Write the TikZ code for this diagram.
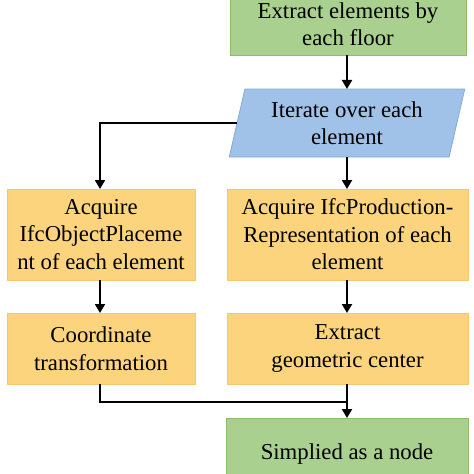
\documentclass[tikz,border=0pt]{standalone}
\usepackage{fontspec}
\newfontfamily\tnr{LiberationSerif}[Extension=.ttf, UprightFont=*-Regular, BoldFont=*-Bold]
\usetikzlibrary{shapes.geometric,arrows.meta}
\definecolor{gfill}{RGB}{169,208,142}
\definecolor{gline}{RGB}{140,188,112}
\definecolor{ofill}{RGB}{252,212,125}
\definecolor{oline}{RGB}{246,200,110}
\definecolor{bfill}{RGB}{160,194,232}
\definecolor{bline}{RGB}{130,170,215}
\tikzset{
  x=1pt, y=-1pt,
  txt/.style={font=\tnr\fontsize{22.75pt}{27.5pt}\selectfont, align=center, text=black, inner sep=0pt, outer sep=0pt},
  gbox/.style={txt, rectangle, fill=gfill, draw=gline, line width=0.8pt},
  obox/.style={txt, rectangle, fill=ofill, draw=oline, line width=0.8pt},
  pbox/.style={txt, trapezium, trapezium left angle=75, trapezium right angle=105, trapezium stretches=true, fill=bfill, draw=bline, line width=0.8pt},
  conn/.style={line width=2pt, black},
  arr/.style={conn, -{Triangle[length=9pt,width=10pt]}}
}
\begin{document}
\begin{tikzpicture}
\useasboundingbox (0,0) rectangle (474,474);
\clip (0,0) rectangle (474,474);
\node[gbox, minimum width=236pt, minimum height=62pt] (top) at (348,24) {Extract elements by\\each floor};
\node[pbox, minimum width=236pt, minimum height=68pt] (para) at (347,123) {Iterate over each\\element};
\node[obox, minimum width=188pt, minimum height=91pt] (L1) at (101,234.5) {Acquire\\IfcObjectPlaceme\\nt of each element};
\node[obox, minimum width=241pt, minimum height=91pt] (R1) at (347.5,234.5) {Acquire IfcProduction-\\Representation of each\\element};
\node[obox, minimum width=188pt, minimum height=71pt] (L2) at (101,348.5) {Coordinate\\transformation};
\node[obox, minimum width=241pt, minimum height=71pt] (R2) at (347.5,348.5) {Extract\\geometric center};
\node[gbox, minimum width=242pt, minimum height=72pt] (bot) at (347,454) {Simplied as a node};
\coordinate (m) at (347,402);
\draw[arr] (top.south -| 347,0) -- (para.north -| 347,0);
\draw[arr] (para.west) -| (100,189);
\draw[arr] (para.south -| 347,0) -- (R1.north -| 347,0);
\draw[arr] (L1.south -| 100,0) -- (L2.north -| 100,0);
\draw[arr] (R1.south -| 347,0) -- (R2.north -| 347,0);
\draw[conn] (L2.south -| 100,0) |- (m);
\draw[arr] (R2.south -| 347,0) -- (bot.north -| 347,0);
\end{tikzpicture}
\end{document}
